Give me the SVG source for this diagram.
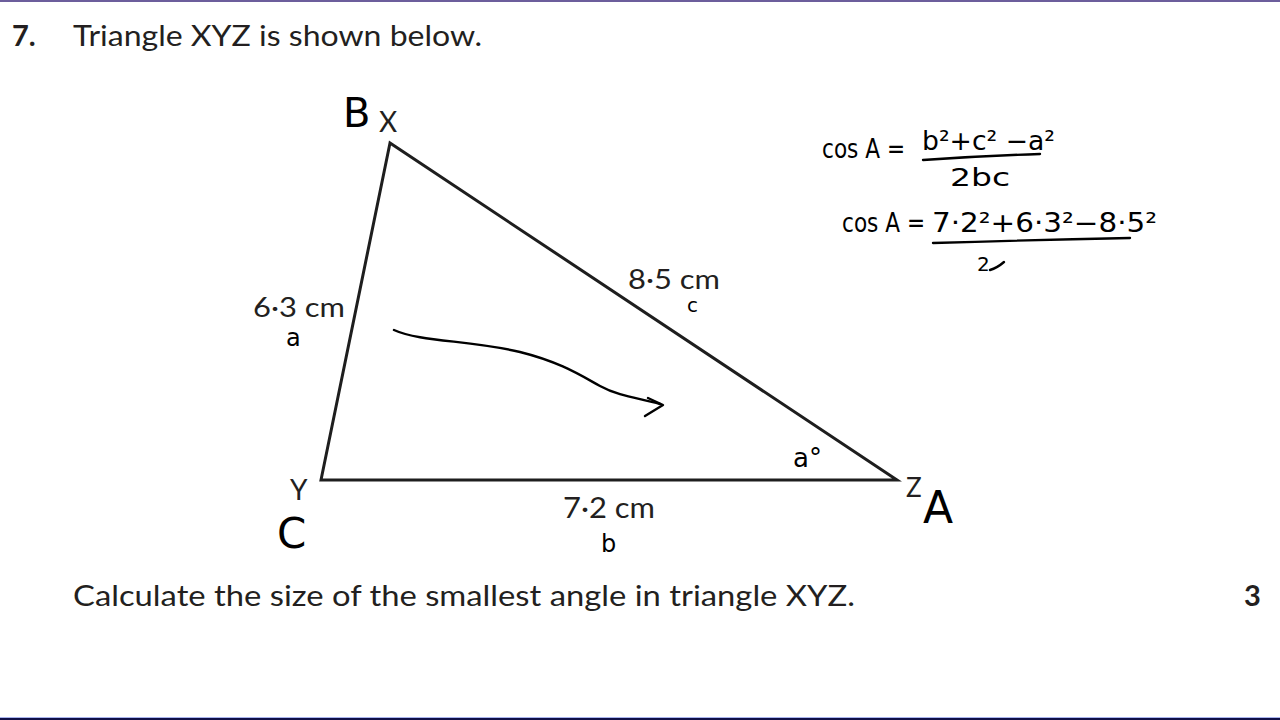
<svg xmlns="http://www.w3.org/2000/svg" width="1280" height="720" viewBox="0 0 1280 720">
<style>
.pt{font-family:Lato,"Open Sans","Noto Sans",sans-serif;fill:#231f20;}
.hw{font-family:"DejaVu Sans","Noto Sans",sans-serif;fill:#000;}
.ln{stroke:#1e1e1e;stroke-width:3;fill:none;stroke-linejoin:miter;}
.ink{stroke:#000;stroke-width:2.4;fill:none;stroke-linecap:round;stroke-linejoin:round;}
</style>
<rect width="1280" height="720" fill="#fff"/>
<rect x="0" y="0" width="1280" height="2" fill="#6c5e9c"/>
<rect x="0" y="717" width="1280" height="1" fill="#a9b4ee"/>
<rect x="0" y="718" width="1280" height="2" fill="#101048"/>

<g id="question">
<text class="pt" x="12" y="46" font-size="29" font-weight="bold">7.</text>
<text class="pt" x="73" y="46" font-size="29" textLength="409" lengthAdjust="spacingAndGlyphs">Triangle XYZ is shown below.</text>
<text class="pt" x="73" y="606" font-size="29" textLength="782" lengthAdjust="spacingAndGlyphs">Calculate the size of the smallest angle in triangle XYZ.</text>
<text class="pt" x="1244" y="606" font-size="29" font-weight="bold">3</text>
</g>

<g id="triangle">
<polygon class="ln" points="390,143 321,480 897,480"/>
</g>

<g id="vertex-labels">
<text class="pt" x="379" y="132" font-size="28">X</text>
<text class="pt" x="290" y="500" font-size="28">Y</text>
<text class="pt" x="906" y="497" font-size="26">Z</text>
</g>

<g id="side-labels">
<text class="pt" x="253" y="317" font-size="27" textLength="92" lengthAdjust="spacingAndGlyphs">6·3 cm</text>
<text class="pt" x="628" y="289" font-size="27" textLength="92" lengthAdjust="spacingAndGlyphs">8·5 cm</text>
<text class="pt" x="563" y="518" font-size="28" textLength="92" lengthAdjust="spacingAndGlyphs">7·2 cm</text>
</g>

<g id="handwritten-labels">
<text class="hw" x="343" y="127" font-size="40">B</text>
<text class="hw" x="286" y="346" font-size="24">a</text>
<text class="hw" x="687" y="312" font-size="20">c</text>
<text class="hw" x="277" y="548" font-size="42">C</text>
<text class="hw" x="601" y="552" font-size="24">b</text>
<text class="hw" x="793" y="467" font-size="26">a°</text>
<text class="hw" x="923" y="523" font-size="44">A</text>
</g>

<g id="formula">
<text class="hw" x="822" y="158" font-size="26" textLength="83" lengthAdjust="spacingAndGlyphs">cos A =</text>
<text class="hw" x="922" y="150" font-size="26" textLength="133" lengthAdjust="spacingAndGlyphs">b²+c² −a²</text>
<path class="ink" d="M923,160 Q980,156 1040,154"/>
<text class="hw" x="950" y="186" font-size="24" textLength="60" lengthAdjust="spacingAndGlyphs">2bc</text>
<text class="hw" x="842" y="232" font-size="26" textLength="83" lengthAdjust="spacingAndGlyphs">cos A =</text>
<text class="hw" x="932" y="232" font-size="26" textLength="225" lengthAdjust="spacingAndGlyphs">7·2²+6·3²−8·5²</text>
<path class="ink" d="M933,243 Q1030,240 1130,238"/>
<text class="hw" x="977" y="271" font-size="20">2</text>
<path class="ink" d="M990,270 Q997,268 1004,262"/>
</g>

<g id="connectors">
<path class="ink" d="M394,330 C420,342 470,340 520,352 C560,362 580,375 600,386 C620,397 640,398 660,404"/>
<path class="ink" d="M648,398 L663,405 L645,416"/>
</g>
</svg>
